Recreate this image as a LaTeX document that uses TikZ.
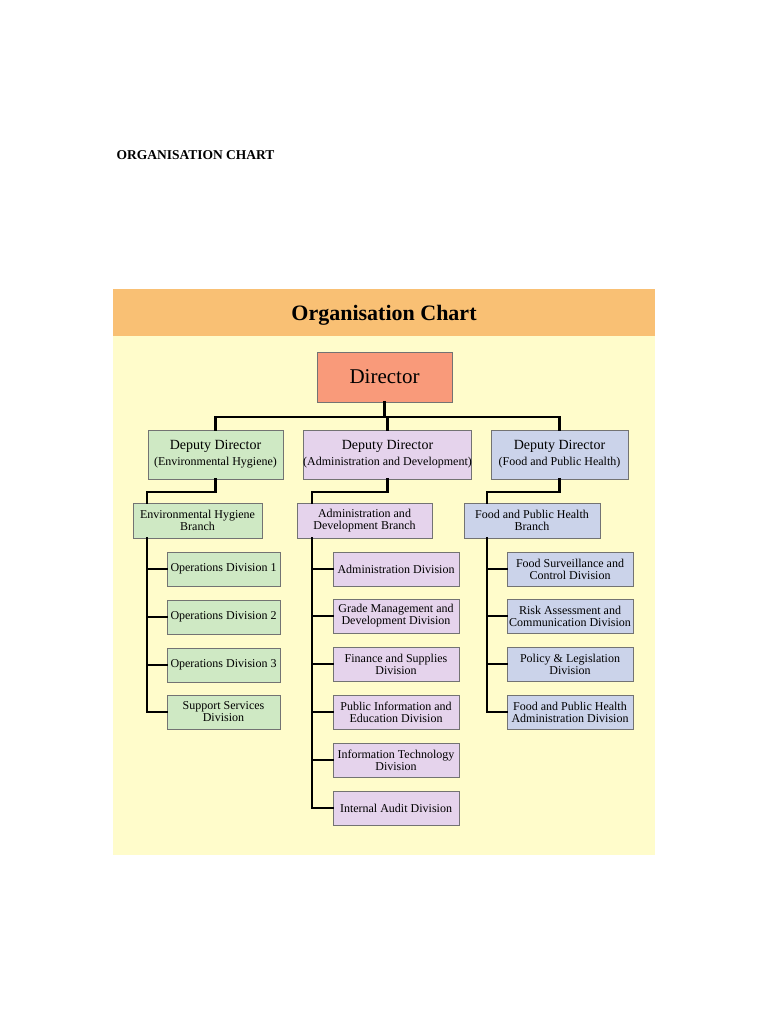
\documentclass[tikz,border=0pt]{standalone}
\usepackage{fontspec}
\setmainfont{Liberation Serif}
\definecolor{hdr}{HTML}{F9C074}
\definecolor{bg}{HTML}{FFFCCB}
\definecolor{dir}{HTML}{F99A7A}
\definecolor{gr}{HTML}{CFE9C4}
\definecolor{lv}{HTML}{E5D3EC}
\definecolor{bl}{HTML}{CBD3EA}
\begin{document}
\begin{tikzpicture}[x=1pt,y=-1pt,
  bx/.style={draw=black!55,line width=0.8pt,align=center,inner sep=0pt,font=\fontsize{12}{12}\selectfont},
  ln/.style={line width=2.6pt,line cap=rect}]
\useasboundingbox (0,0) rectangle (768,1024);
\node[anchor=west,font=\bfseries\fontsize{13.5}{14}\selectfont] (t) at (113,155) {ORGANISATION CHART};
\fill[bg] (113,289) rectangle (655,855);
\fill[hdr] (113,289) rectangle (655,336);
\node[font=\bfseries\fontsize{22}{22}\selectfont] (ttl) at (384,315) {Organisation Chart};
\node[bx,fill=dir,minimum width=135,minimum height=50,font=\fontsize{21}{21}\selectfont] (d) at (384.5,377) {Director};
\node[bx,fill=gr,minimum width=135,minimum height=49,font=\fontsize{14}{15}\selectfont] (d1) at (215.5,454.5) {Deputy Director\\[1pt]{\fontsize{12}{12}\selectfont(Environmental Hygiene)}};
\node[bx,fill=lv,minimum width=167,minimum height=49,font=\fontsize{14}{15}\selectfont] (d2) at (387.5,454.5) {Deputy Director\\[1pt]{\fontsize{12}{12}\selectfont(Administration and Development)}};
\node[bx,fill=bl,minimum width=137,minimum height=49,font=\fontsize{14}{15}\selectfont] (d3) at (559.5,454.5) {Deputy Director\\[1pt]{\fontsize{12}{12}\selectfont(Food and Public Health)}};
\node[bx,fill=gr,minimum width=129,minimum height=35] (b1) at (197.5,520.5) {Environmental Hygiene\\Branch};
\node[bx,fill=lv,minimum width=135,minimum height=35] (b2) at (364.5,520.5) {Administration and\\Development Branch};
\node[bx,fill=bl,minimum width=136,minimum height=35] (b3) at (532,520.5) {Food and Public Health\\Branch};
% left items
\foreach \n/\y/\t in {l1/569/Operations Division 1,l2/617/Operations Division 2,l3/665/Operations Division 3,l4/712/{Support Services\\Division}}
  \node[bx,fill=gr,minimum width=113,minimum height=34] (\n) at (223.5,\y) {\t};
\foreach \n/\y/\t in {m1/569/Administration Division,m2/616/{Grade Management and\\Development Division},m3/664/{Finance and Supplies\\Division},m4/712/{Public Information and\\Education Division},m5/760/{Information Technology\\Division},m6/808/Internal Audit Division}
  \node[bx,fill=lv,minimum width=126,minimum height=34] (\n) at (396,\y) {\t};
\foreach \n/\y/\t in {r1/569/{Food Surveillance and\\Control Division},r2/616/{Risk Assessment and\\Communication Division},r3/664/{Policy \& Legislation\\Division},r4/712/{Food and Public Health\\Administration Division}}
  \node[bx,fill=bl,minimum width=126,minimum height=34] (\n) at (570,\y) {\t};
% connectors
\coordinate (j) at (384.5,417);
\draw[ln] (d.south) -- (j);
\draw[ln] (d1.north) |- (j) -| (d3.north);
\draw[ln] (d2.north) -- (d2.north |- j);
\coordinate (c1) at (147,492); \coordinate (c2) at (312,492); \coordinate (c3) at (487,492);
\draw[ln] (d1.south) |- (c1) -- (c1 |- b1.north);
\draw[ln] (d2.south) |- (c2) -- (c2 |- b2.north);
\draw[ln] (d3.south) |- (c3) -- (c3 |- b3.north);
\draw[ln] (c1 |- b1.south) |- (l4.west);
\draw[ln] (c2 |- b2.south) |- (m6.west);
\draw[ln] (c3 |- b3.south) |- (r4.west);
\foreach \n in {l1,l2,l3} \draw[ln] (c1 |- \n.west) -- (\n.west);
\foreach \n in {m1,m2,m3,m4,m5} \draw[ln] (c2 |- \n.west) -- (\n.west);
\foreach \n in {r1,r2,r3} \draw[ln] (c3 |- \n.west) -- (\n.west);
\end{tikzpicture}
\end{document}
